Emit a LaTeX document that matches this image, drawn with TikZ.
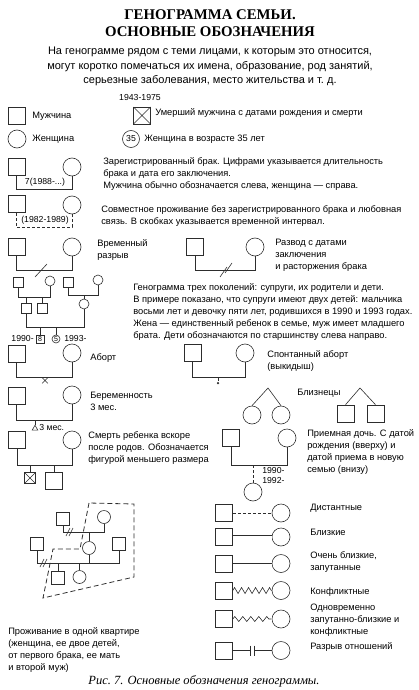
\documentclass[tikz,border=0pt]{standalone}
\usepackage{fontspec}
\setmainfont{Liberation Sans}
\newfontfamily\headfont{Liberation Serif}
\usetikzlibrary{shapes.geometric, shapes.misc, positioning,
                decorations.pathmorphing}
\definecolor{ink}{RGB}{45,45,45}

\begin{document}
\begin{tikzpicture}[
  x=1pt, y=-1pt,
  line width=0.6pt,
  male/.style    = {rectangle, draw=ink, minimum size=17pt, inner sep=0pt},
  female/.style  = {circle, draw=ink, minimum size=18pt, inner sep=0pt},
  smale/.style   = {male, minimum size=10pt},
  sfemale/.style = {female, minimum size=10pt},
  dead/.style    = {path picture={\draw[ink]
                     (path picture bounding box.north west) -- (path picture bounding box.south east)
                     (path picture bounding box.north east) -- (path picture bounding box.south west);}},
  link/.style    = {draw=ink},
  dashlink/.style= {draw=ink, dash pattern=on 3pt off 2pt},
  desc/.style    = {anchor=west, align=left, inner sep=0pt, font=\fontsize{9.3}{12}\selectfont},
  small/.style   = {inner sep=0pt, font=\fontsize{8.7}{10}\selectfont},
]
\useasboundingbox (0,0) rectangle (419,690);

%% --- Title ---
\node[align=center, font=\headfont\bfseries\fontsize{14.8}{17}\selectfont] (title) at (210,23.5)
  {ГЕНОГРАММА СЕМЬИ.\\ОСНОВНЫЕ ОБОЗНАЧЕНИЯ};
\node[align=center, inner sep=0pt, font=\fontsize{11}{14.5}\selectfont] (intro) at (210,66.5)
  {На генограмме рядом с теми лицами, к которым это относится,\\
   могут коротко помечаться их имена, образование, род занятий,\\
   серьезные заболевания, место жительства и т.~д.};

%% --- Basic symbols ---
\node[male]             (man)   at (16.5,115.5) {};
\node[desc]                     at (32,116)  {Мужчина};
\node[male, dead]       (dman)  at (142,115.5) {};
\node[small]                    at (140,98)  {1943-1975};
\node[desc]                     at (155,113) {Умерший мужчина с датами рождения и смерти};
\node[female]           (woman) at (17,139) {};
\node[desc]                     at (32,139)  {Женщина};
\node[female, minimum size=17pt, font=\fontsize{8.7}{10}\selectfont] (w35) at (131,139) {35};
\node[desc]                     at (144,139) {Женщина в возрасте 35 лет};

%% --- Marriage ---
\node[male]   (m1) at (16.5,167) {};
\node[female] (f1) at (72,167) {};
\draw[link] (m1.south) -- ++(0,13.5) -| (f1.south);
\node[small] at (45,182) {7(1988-...)};
\node[desc] at (103,174.5) {Зарегистрированный брак. Цифрами указывается длительность\\
  брака и дата его заключения.\\Мужчина обычно обозначается слева, женщина — справа.};

%% --- Cohabitation ---
\node[male]   (m2) at (16.5,204) {};
\node[female] (f2) at (72,205) {};
\draw[dashlink] (m2.south) -- ++(0,14.5) -| (f2.south);
\node[small] at (45,220.5) {(1982-1989)};
\node[desc] at (101,216) {Совместное проживание без зарегистрированного брака и любовная\\
  связь. В скобках указывается временной интервал.};

%% --- Temporary break ---
\node[male]   (m3) at (16.5,246.5) {};
\node[female] (f3) at (72,247) {};
\draw[link] (m3.south) -- ++(0,15) coordinate (m3l) -| (f3.south);
\coordinate (brk) at (41,270);
\draw[link] ([shift={(-6,7)}]brk) -- ([shift={(6,-6)}]brk);
\node[desc] at (97,250.5) {Временный\\разрыв};

%% --- Divorce ---
\node[male]   (m4) at (195,246.5) {};
\node[female] (f4) at (255,247) {};
\draw[link] (m4.south) -- ++(0,15) -| (f4.south);
\coordinate (div) at (226,270);
\draw[link] ([shift={(-6,7)}]div) -- ([shift={(1,-3)}]div);
\draw[link] ([shift={(-1,3)}]div) -- ([shift={(6,-7)}]div);
\node[desc] at (275,255) {Развод с датами\\заключения\\и расторжения брака};

%% --- Three generations ---
\node[smale]   (gm1) at (18,282) {};
\node[sfemale] (gf1) at (50,281) {};
\draw[link] (gm1.south) -- ++(0,10) coordinate (g1l) -| (gf1.south);
\node[smale]   (son)  at (26,308) {};
\node[smale]   (bro)  at (42,308) {};
\draw[link] (son.north) -- (son.north |- g1l);
\draw[link] (bro.north) -- (bro.north |- g1l);
\node[smale]   (gm2) at (68,282) {};
\node[sfemale] (gf2) at (98,280) {};
\draw[link] (gm2.south) -- ++(0,8) coordinate (g2l) -| (gf2.south);
\node[sfemale] (wife) at (84,304) {};
\draw[link] (wife.north) -- (wife.north |- g2l);
\draw[link] (son.south) -- ++(0,14) coordinate (spl) -| (wife.south);
\node[smale, minimum size=8pt, font=\fontsize{7}{7}\selectfont]   (kid8) at (40,339) {8};
\node[sfemale, minimum size=8pt, font=\fontsize{7}{7}\selectfont] (kid5) at (56,339) {5};
\draw[link] (kid8.north) -- (kid8.north |- spl);
\draw[link] (kid5.north) -- (kid5.north |- spl);
\node[small, anchor=east] at (34,339) {1990-};
\node[small, anchor=west] at (64,339) {1993-};
\node[desc] at (133,312) {Генограмма трех поколений: супруги, их родители и дети.\\
  В примере показано, что супруги имеют двух детей: мальчика\\
  восьми лет и девочку пяти лет, родившихся в 1990 и 1993 годах.\\
  Жена — единственный ребенок в семье, муж имеет младшего\\
  брата. Дети обозначаются по старшинству слева направо.};

%% --- Abortion ---
\node[male]   (m5) at (16.5,354) {};
\node[female] (f5) at (72,353) {};
\draw[link] (m5.south) -- ++(0,14.5) -| (f5.south);
\node[cross out, draw=ink, minimum size=5pt, inner sep=0pt] (abx) at (45,380.5) {};
\node[desc] at (90,358) {Аборт};

%% --- Miscarriage ---
\node[male]   (m6) at (192.5,353) {};
\node[female] (f6) at (245,353) {};
\draw[link] (m6.south) -- ++(0,15.5) -| (f6.south);
\coordinate (mis) at (218,377);
\node[circle, fill=ink, minimum size=2.5pt, inner sep=0pt] (misdot) at (218,383) {};
\draw[link] (mis) -- (misdot);
\node[desc] at (267,361.5) {Спонтанный аборт\\(выкидыш)};

%% --- Pregnancy ---
\node[male]   (m7) at (16.5,395.5) {};
\node[female] (f7) at (72,395) {};
\draw[link] (m7.south) -- ++(0,16) -| (f7.south);
\coordinate (prg) at (35,420);
\node[regular polygon, regular polygon sides=3, draw=ink, minimum size=6.5pt, inner sep=0pt] (tri) at (35,428.5) {};
\draw[link] (prg) -- (tri.north);
\node[small, anchor=west] at (39,428) {3 мес.};
\node[desc] at (90,401) {Беременность\\3 мес.};

%% --- Child death ---
\node[male]   (m8) at (17,439.5) {};
\node[female] (f8) at (72,440) {};
\draw[link] (m8.south) -- ++(0,17) coordinate (m8l) -| (f8.south);
\node[male, dead, minimum size=11pt] (dk1) at (30,478) {};
\node[male]   (dk2) at (54,480.5) {};
\draw[link] (dk1.north) -- (dk1.north |- m8l);
\draw[link] (dk2.north) -- (dk2.north |- m8l);
\node[desc] at (88,448) {Смерть ребенка вскоре\\после родов. Обозначается\\фигурой меньшего размера};

%% --- Twins ---
\coordinate (tw1) at (268,388);
\node[female] (tc1) at (252,415) {};
\node[female] (tc2) at (281,415) {};
\draw[link] (tc1.north) -- (tw1) -- (tc2.north);
\node[desc] at (297,393) {Близнецы};
\coordinate (tw2) at (360,388);
\node[male] (ts1) at (345.5,413.5) {};
\node[male] (ts2) at (375.5,413.5) {};
\draw[link] (ts1.north) -- (tw2) -- (ts2.north);

%% --- Adoption ---
\node[male]   (m9) at (231,438) {};
\node[female] (f9) at (287,438) {};
\draw[link] (m9.south) -- ++(0,18.5) coordinate (m9l) -| (f9.south);
\node[female] (adp) at (253,492) {};
\draw[dashlink] (adp.north) -- (adp.north |- m9l);
\node[small, align=left, anchor=west] at (262,475) {1990-\\1992-};
\node[desc] at (307,452) {Приемная дочь. С датой\\рождения (вверху) и\\датой приема в новую\\семью (внизу)};

%% --- Relationships ---
\node[male]   (r1m) at (224,513) {};
\node[female] (r1f) at (281,513) {};
\draw[dashlink] (r1m) -- (r1f);
\node[desc] at (310,508) {Дистантные};

\node[male]   (r2m) at (224,537) {};
\node[female] (r2f) at (281,537) {};
\draw[link, double, double distance=3pt] (r2m) -- (r2f);
\node[desc] at (310,532) {Близкие};

\node[male]   (r3m) at (224,563.5) {};
\node[female] (r3f) at (281,563.5) {};
\draw[link, double, double distance=4.5pt] (r3m) -- (r3f);
\draw[link] (r3m) -- (r3f);
\node[desc] at (310,562) {Очень близкие,\\запутанные};

\node[male]   (r4m) at (224,590.5) {};
\node[female] (r4f) at (281,590.5) {};
\draw[link, decorate, decoration={zigzag, segment length=7pt, amplitude=3pt}] (r4m) -- (r4f);
\node[desc] at (310,592) {Конфликтные};

\node[male]   (r5m) at (224,619) {};
\node[female] (r5f) at (281,619) {};
\draw[link, double, double distance=5.5pt] (r5m) -- (r5f);
\draw[link, decorate, decoration={zigzag, segment length=8pt, amplitude=2.5pt}] (r5m) -- (r5f);
\node[desc] at (310,620) {Одновременно\\запутанно-близкие и\\конфликтные};

\node[male]   (r6m) at (224,650.5) {};
\node[female] (r6f) at (281,650.5) {};
\coordinate (cutl) at (250,650.5);
\coordinate (cutr) at (254.5,650.5);
\draw[link] (r6m) -- (cutl);
\draw[link] (cutr) -- (r6f);
\draw[link] ([yshift=5pt]cutl) -- ([yshift=-5pt]cutl);
\draw[link] ([yshift=5pt]cutr) -- ([yshift=-5pt]cutr);
\node[desc] at (310,647) {Разрыв отношений};

%% --- Shared flat ---
\node[smale, minimum size=13pt]   (la) at (63,518.5) {};
\node[sfemale, minimum size=13pt] (lb) at (104,517) {};
\draw[link] (la.south) -- ++(0,7) coordinate (lal) -| (lb.south);
\coordinate (lsl) at (70,532);
\draw[link] ([shift={(-4,4)}]lsl) -- ([shift={(0,-4)}]lsl);
\draw[link] ([shift={(-1,4)}]lsl) -- ([shift={(3,-4)}]lsl);
\node[sfemale, minimum size=13pt] (lc) at (89,548) {};
\draw[link] (lc.north) -- (lc.north |- lal);
\node[smale, minimum size=13pt]   (ld) at (37,543.5) {};
\node[smale, minimum size=13pt]   (le) at (119,543.5) {};
\draw[link] (ld.south) -- ++(0,13) coordinate (ldl) -| (le.south);
\draw[link] (lc.south) -- (lc.south |- ldl);
\coordinate (lsd) at (44,563);
\draw[link] ([shift={(-4,4)}]lsd) -- ([shift={(0,-4)}]lsd);
\draw[link] ([shift={(-1,4)}]lsd) -- ([shift={(3,-4)}]lsd);
\node[smale, minimum size=13pt]   (lf) at (58,577.5) {};
\node[sfemale, minimum size=13pt] (lg) at (79.5,577) {};
\draw[link] (lf.north) -- (lf.north |- ldl);
\draw[link] (lg.north) -- (lg.north |- ldl);
\draw[draw=ink, line width=0.8pt, dash pattern=on 5pt off 3pt]
  (89,503) -- (80,549) -- (53,549) -- (43,598) -- (134,577) -- (134,504) -- cycle;
\node[desc] at (8,650.5) {Проживание в одной квартире\\(женщина, ее двое детей,\\от первого брака, ее мать\\и второй муж)};

%% --- Caption ---
\node[font=\headfont\itshape\fontsize{12.5}{14}\selectfont] (cap) at (204,681)
  {Рис.~7. Основные обозначения генограммы.};

\end{tikzpicture}
\end{document}
